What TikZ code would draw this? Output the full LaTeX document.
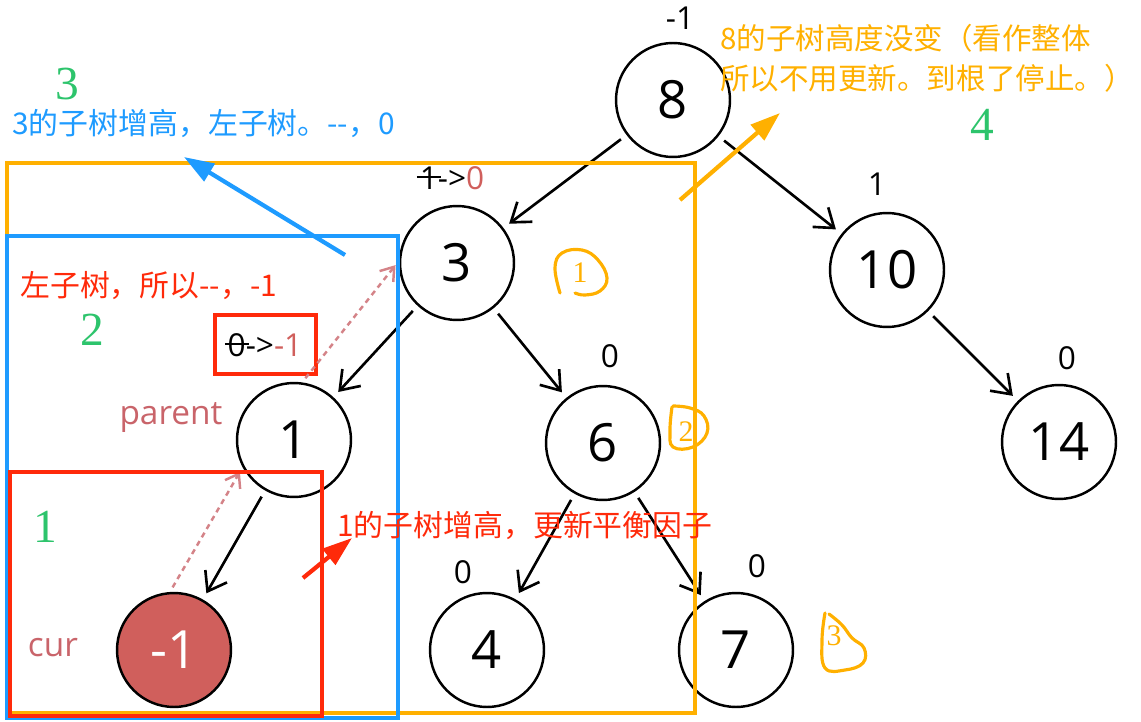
\documentclass[tikz,border=0pt]{standalone}
\usepackage{fontspec}
\setmainfont{Open Sans}
\newfontfamily\cjk{Noto Sans CJK SC}
\newfontfamily\serifnum{Liberation Serif}
\usepackage{xcolor}
\usetikzlibrary{arrows.meta, positioning, calc}

\definecolor{markorange}{HTML}{FFB000}
\definecolor{markblue}{HTML}{1E9BFF}
\definecolor{markred}{HTML}{FF2A0A}
\definecolor{markgreen}{HTML}{2DC46C}
\definecolor{nodered}{HTML}{D05F5C}
\definecolor{labelred}{HTML}{C9646A}

\newcommand{\struck}[1]{\ooalign{#1\cr\hidewidth\rule[0.36em]{0.75em}{0.07em}\hidewidth}}

\begin{document}
\begin{tikzpicture}[x=0.02cm, y=-0.02cm,
    tnode/.style={circle, draw, line width=1.4pt, minimum size=2.28cm, inner sep=0pt,
        font=\fontsize{30}{30}\selectfont},
    bf/.style={inner sep=0pt, font=\fontsize{18}{18}\selectfont},
    note/.style={inner sep=0pt, anchor=west, font=\cjk\fontsize{17}{20}\selectfont},
    stepnum/.style={inner sep=0pt, text=markgreen, font=\serifnum\fontsize{27}{27}\selectfont},
    edge/.style={-{Straight Barb[length=3.5mm,width=5mm]}, line width=1.5pt,
        shorten <=4pt, shorten >=4pt},
    upward/.style={-{Straight Barb[length=2.5mm,width=3.5mm]}, draw=labelred!80,
        line width=1.4pt, dash pattern=on 3pt off 2.5pt, shorten <=3pt, shorten >=3pt},
    hint/.style={line width=2.4pt, -{Triangle[length=6mm,width=4mm]}},
    frame/.style={line width=1.8pt},
    loop/.style={draw=markorange, line width=1.8pt, line cap=round},
    loopnum/.style={inner sep=0pt, text=markorange, font=\serifnum\fontsize{17}{17}\selectfont}]
    \useasboundingbox (0,0) rectangle (1141,722);

    % tree
    \node[tnode] (n8) at (673,100) {8};
    \node[tnode] (n3) at (457,263) {3};
    \node[tnode] (n10) at (887,270) {10};
    \node[tnode] (n1) at (294,440) {1};
    \node[tnode] (n6) at (603,443) {6};
    \node[tnode] (n14) at (1059,442) {14};
    \node[tnode, fill=nodered, text=white] (nm1) at (174,650) {-1};
    \node[tnode] (n4) at (487,650) {4};
    \node[tnode] (n7) at (736,650) {7};

    \draw[edge] (n8) -- (n3);
    \draw[edge] (n8) -- (n10);
    \draw[edge] (n3) -- (n1);
    \draw[edge] (n3) -- (n6);
    \draw[edge] (n10) -- (n14);
    \draw[edge] (n1) -- (nm1);
    \draw[edge] (n6) -- (n4);
    \draw[edge] (n6) -- (n7);

    % balance factors
    \node[bf] (bf8) at (680,18) {-1};
    \node[bf] (bf3) at (452,178) {\struck{1}->\textcolor{nodered}{0}};
    \node[bf] (bf10) at (877,184) {1};
    \node[bf] (bf6) at (610,356) {0};
    \node[bf] (bf14) at (1067,358) {0};
    \node[bf] (bf1) at (265,345) {\struck{0}->\textcolor{nodered}{-1}};
    \node[bf] (bf4) at (463,572) {0};
    \node[bf] (bf7) at (757,566) {0};
    \node[draw=markred, frame, minimum width=2.02cm, minimum height=1.18cm] (bf1box) at (265.5,344.5) {};

    \node[inner sep=0pt, text=labelred, font=\fontsize{19}{19}\selectfont] (parent) at (171,418) {parent};
    \node[inner sep=0pt, text=labelred, font=\fontsize{19}{19}\selectfont] (cur) at (53,648) {cur};

    % walking up
    \draw[upward] (nm1.94) -- (n1.208);
    \draw[upward] (n1.82) -- (n3.178);

    % regions
    \draw[markorange, frame] (7,163) rectangle (695,713);
    \draw[markblue, frame] (7,236) rectangle (398,718);
    \draw[markred, frame] (10,472) rectangle (322,716);

    \node[stepnum] (s1) at (45,527) {1};
    \node[stepnum] (s2) at (92,330) {2};
    \node[stepnum] (s3) at (67,84) {3};
    \node[stepnum] (s4) at (982,125) {4};

    % notes
    \node[note, text=markred] (note1) at (337,525) {1的子树增高，更新平衡因子};
    \node[note, text=markred] (note2) at (20,286) {左子树，所以--，-1};
    \node[note, text=markblue] (note3) at (12,123) {3的子树增高，左子树。--，0};
    \node[note, text=markorange, align=left, anchor=north west,
        font=\cjk\fontsize{16.8}{22.5}\selectfont] (note4) at (720,24)
        {8的子树高度没变（看作整体\\所以不用更新。到根了停止。）};

    \coordinate (redTail) at (303,578);
    \coordinate (redTip) at (352,538);
    \draw[hint, markred] (redTail) -- (redTip);
    \coordinate (blueTail) at (345,255);
    \coordinate (blueTip) at (184,157);
    \draw[hint, markblue] (blueTail) -- (blueTip);
    \coordinate (orangeTail) at (680,200);
    \coordinate (orangeTip) at (780,113);
    \draw[hint, markorange] (orangeTail) -- (orangeTip);

    % hand drawn marks
    \draw[loop] plot[smooth, tension=0.7] coordinates {(560,293) (555,268) (562,253) (582,250) (598,260) (607,278) (600,291) (585,295) (575,293)};
    \node[loopnum] (o1) at (580,273) {1};
    \draw[loop] plot[smooth, tension=0.7] coordinates {(672,407) (670,430) (673,447) (693,447) (707,433) (704,416) (690,408) (673,406)};
    \node[loopnum] (o2) at (686,432) {2};
    \draw[loop] plot[smooth, tension=0.7] coordinates {(825,613) (822,640) (825,668) (845,670) (863,663) (864,648) (852,638) (842,625) (829,614)};
    \node[loopnum] (o3) at (834,636) {3};
\end{tikzpicture}
\end{document}
